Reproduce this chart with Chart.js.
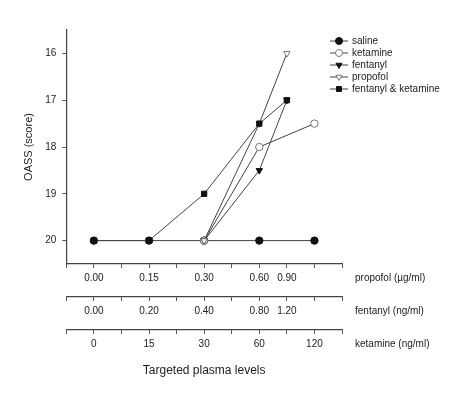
<!DOCTYPE html>
<html>
<head>
<meta charset="UTF-8">
<script src="https://cdn.jsdelivr.net/npm/chart.js"></script>
<style>
  body { margin: 0; background: #fff; }
</style>
</head>
<body>
<canvas id="c" width="474" height="401"></canvas>
<script>
// x positions: 0,1,2,3 = dose steps, 3.5 = propofol 0.90 / fentanyl 1.20, 4 = ketamine 120
const saline = [[0, 20], [1, 20], [2, 20], [3, 20], [4, 20]];
const ketamine = [[2, 20], [3, 18], [4, 17.5]];
const fentanyl = [[2, 20], [3, 18.5], [3.5, 17]];
const propofol = [[2, 20], [3, 17.5], [3.5, 16]];
const fentKet = [[0, 20], [1, 20], [2, 19], [3, 17.5], [3.5, 17]];

const propofolLabels = {0: '0.00', 1: '0.15', 2: '0.30', 3: '0.60', 3.5: '0.90'};
const fentanylLabels = {0: '0.00', 1: '0.20', 2: '0.40', 3: '0.80', 3.5: '1.20'};
const ketamineLabels = {0: '0', 1: '15', 2: '30', 3: '60', 4: '120'};
const yTicks = [16, 17, 18, 19, 20];

const font = { family: 'Liberation Sans, Arial', size: 10 };
const xTickVals = [-0.5, 0, 0.5, 1, 1.5, 2, 2.5, 3, 3.5, 4, 4.5];

function pts(a) { return a.map(p => ({ x: p[0], y: p[1] })); }

function xAxis(labels, weight, name, extra) {
    return Object.assign({
        type: 'linear', position: 'bottom', min: -0.5, max: 4.5, weight: weight,
        afterBuildTicks: s => { s.ticks = xTickVals.map(v => ({ value: v })); },
        afterFit: s => { s.height = 33; },
        ticks: { autoSkip: false, maxRotation: 0, color: '#222', font: font, padding: 4,
                 callback: v => labels[v] !== undefined ? labels[v] : '' },
        grid: { drawOnChartArea: false, tickLength: 4, color: '#555' },
        border: { color: '#444', width: 1.2 },
        axisName: name
    }, extra || {});
}

const ds = (label, data, style) => Object.assign({
    label: label, data: pts(data), xAxisID: 'x', borderColor: '#444', borderWidth: 1,
    pointRadius: 3.7, pointBorderColor: '#111', pointBackgroundColor: '#111', fill: false, tension: 0
}, style);

const datasets = [
    ds('saline', saline, { pointStyle: 'circle', order: 5 }),
    ds('ketamine', ketamine, { pointStyle: 'circle', pointBackgroundColor: '#fff', pointBorderColor: '#777', order: 4 }),
    ds('fentanyl', fentanyl, { pointStyle: 'triangle', pointRotation: 180, order: 3 }),
    ds('propofol', propofol, { pointStyle: 'triangle', pointRotation: 180, pointBackgroundColor: '#fff', pointBorderColor: '#777', order: 2 }),
    ds('fentanyl & ketamine', fentKet, { pointStyle: 'rect', order: 1 })
];

const extras = {
    id: 'extras',
    afterDraw(chart) {
        const ctx = chart.ctx;
        ctx.save();
        ctx.font = '10px Liberation Sans, Arial';
        ctx.fillStyle = '#222';
        ctx.textBaseline = 'middle';
        ['x', 'x2', 'x3'].forEach(id => {
            const s = chart.scales[id];
            ctx.fillText(s.options.axisName, 355, s.top + 14);
        });
        // legend
        chart.data.datasets.forEach((d, i) => {
            const y = 41 + i * 12;
            ctx.strokeStyle = '#444'; ctx.lineWidth = 1;
            ctx.beginPath(); ctx.moveTo(330, y); ctx.lineTo(348, y); ctx.stroke();
            ctx.fillStyle = d.pointBackgroundColor; ctx.strokeStyle = d.pointBorderColor;
            Chart.helpers.drawPoint(ctx, {
                pointStyle: d.pointStyle, rotation: d.pointRotation || 0, radius: 3.5, borderWidth: 1
            }, 339, y);
            ctx.fillStyle = '#222';
            ctx.fillText(d.label, 352, y);
        });
        ctx.restore();
    }
};

new Chart(document.getElementById('c'), {
    type: 'line',
    data: { datasets: datasets },
    options: {
        responsive: false, animation: false,
        layout: { padding: { top: 30, right: 132, bottom: 19, left: 18 } },
        plugins: { legend: { display: false }, tooltip: { enabled: false } },
        scales: {
            x: xAxis(propofolLabels, 1, 'propofol (\u00b5g/ml)'),
            x2: xAxis(fentanylLabels, 2, 'fentanyl (ng/ml)'),
            x3: xAxis(ketamineLabels, 3, 'ketamine (ng/ml)', {
                title: { display: true, text: 'Targeted plasma levels', color: '#222',
                         font: { family: 'Liberation Sans, Arial', size: 12 }, padding: { top: 2 } },
                afterFit: s => { s.height = 52; }
            }),
            y: {
                reverse: true, min: 15.5, max: 20.5,
                afterBuildTicks: s => { s.ticks = yTicks.map(v => ({ value: v })); },
                ticks: { color: '#222', font: font, padding: 6 },
                grid: { drawOnChartArea: false, tickLength: 4, color: '#555' },
                border: { color: '#444', width: 1.2 },
                title: { display: true, text: 'OASS (score)', color: '#222',
                         font: { family: 'Liberation Sans, Arial', size: 11 } }
            }
        }
    },
    plugins: [extras]
});
</script>
</body>
</html>
